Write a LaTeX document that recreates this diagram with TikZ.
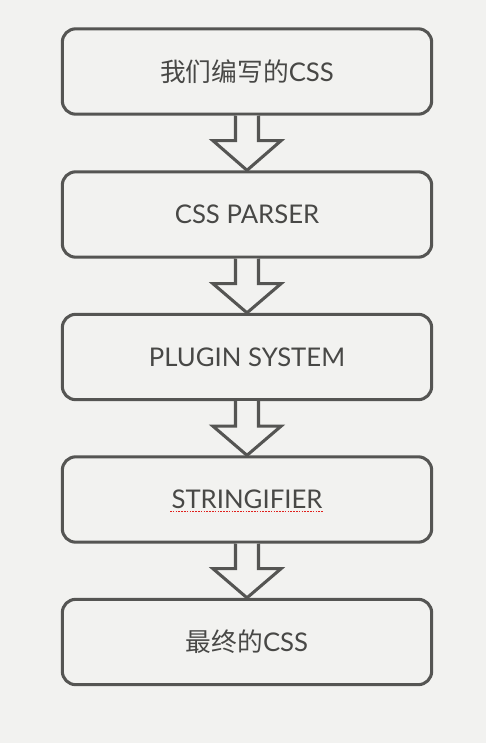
\documentclass[tikz,border=0pt]{standalone}
\usepackage{fontspec}
\setmainfont{Lato}
\newfontfamily\cjk{Noto Sans CJK SC}
\usepackage{xcolor}
\usetikzlibrary{calc}

\definecolor{paper}{HTML}{F2F2F0}
\definecolor{ink}{HTML}{555553}
\definecolor{label}{HTML}{484846}
\definecolor{spell}{HTML}{E0201C}

\begin{document}
\begin{tikzpicture}[x=0.75pt, y=-0.75pt,
        stage/.style={draw=ink, line width=2.3pt, rounded corners=10pt,
            minimum width=277pt, minimum height=64pt, fill=paper,
            text=label, font=\fontsize{19.3}{22}\selectfont},
        hollow/.style={draw=ink, line width=2.3pt, line join=miter, fill=paper}]
        % Background
        \fill[paper] (0,0) rectangle (486,743);

        % Stages
        \node[stage] (a) at (247,71.5) {{\cjk 我们编写的}CSS};
        \node[stage] (b) at (247,214.5) {CSS PARSER};
        \node[stage] (c) at (247,357) {PLUGIN SYSTEM};
        \node[stage] (d) at (247,499.5) {STRINGIFIER};
        \node[stage] (e) at (247,642) {{\cjk 最终的}CSS};

        % Spell check marks
        \draw[spell, line width=1.2pt, dash pattern=on 1.2pt off 0.9pt]
            ($(d.center)+(-77,12)$) -- ($(d.center)+(76,12)$);

        % Hollow arrows
        \foreach \from/\to in {a/b, b/c, c/d, d/e}
            \draw[hollow] ($(\from.south)+(-11.5,0)$) -- ++(0,25) -- ++(-22.5,0)
                -- (\to.north) -- ($(\from.south)+(34,25)$) -- ++(-22.5,0)
                -- ($(\from.south)+(11.5,0)$);
\end{tikzpicture}
\end{document}
